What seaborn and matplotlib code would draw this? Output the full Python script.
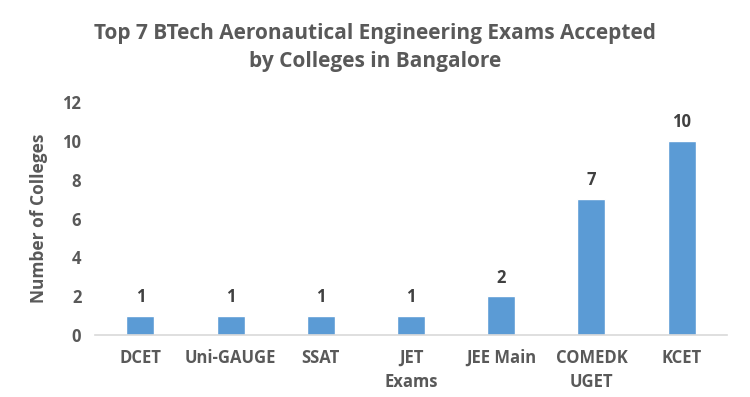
import matplotlib
matplotlib.use("Agg")
import matplotlib.pyplot as plt
import pandas as pd
import seaborn as sns

exams = ["DCET", "Uni-GAUGE", "SSAT", "JET\nExams", "JEE Main", "COMEDK\nUGET", "KCET"]
colleges = [1, 1, 1, 1, 2, 7, 10]

df = pd.DataFrame({"exam": exams, "colleges": colleges})

sns.set_theme(style="white")
plt.rcParams["font.family"] = ["Open Sans", "DejaVu Sans"]

fig = plt.figure(figsize=(7.5, 3.97), dpi=100)
ax = fig.add_axes([0.127, 0.156, 0.842, 0.587])

sns.barplot(data=df, x="exam", y="colleges", color="#5B9BD5", saturation=1,
            width=0.31, ax=ax)

for p in ax.containers:
    ax.bar_label(p, labels=[f"{v:.0f}" for v in p.datavalues], padding=7,
                 fontsize=12, fontweight="bold", color="#404040")

ax.set_ylim(0, 12)
ax.set_xlim(-0.5, 6.5)
ax.set_yticks(range(0, 13, 2))
ax.set_xlabel("")
ax.set_ylabel("Number of Colleges", fontsize=12.5, fontweight="bold", color="#595959", labelpad=10)
ax.tick_params(axis="both", length=0, labelsize=12, labelcolor="#595959", pad=10)
for lbl in ax.get_xticklabels() + ax.get_yticklabels():
    lbl.set_fontweight("bold")
    lbl.set_linespacing(1.45)

sns.despine(ax=ax, left=True)
ax.spines["bottom"].set_color("#D9D9D9")
ax.spines["bottom"].set_linewidth(1.2)

fig.text(0.5, 0.88, "Top 7 BTech Aeronautical Engineering Exams Accepted\nby Colleges in Bangalore",
         ha="center", va="center", fontsize=15, fontweight="bold", color="#595959",
         linespacing=1.45)

fig.savefig("out.png", dpi=100)
